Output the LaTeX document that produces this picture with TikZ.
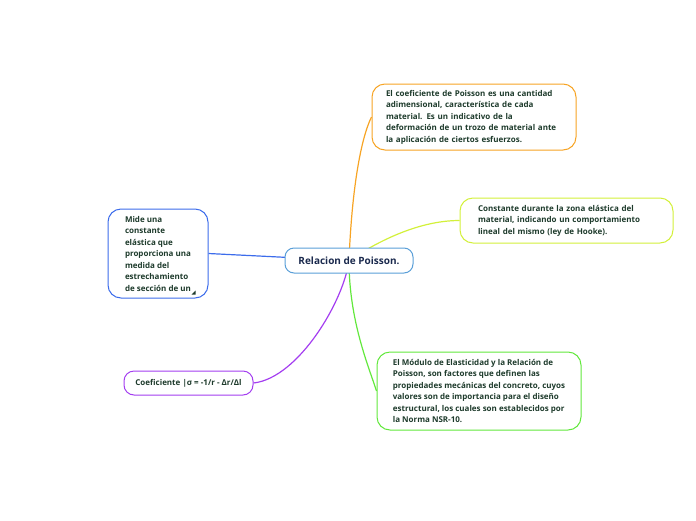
\documentclass[tikz,border=0pt]{standalone}
\usepackage{fontspec}
\setmainfont{Open Sans}
\usetikzlibrary{positioning,calc,backgrounds}
\definecolor{InkGreen}{HTML}{1E3B2C}
\definecolor{InkNavy}{HTML}{1B2A4E}
\definecolor{RootBlue}{HTML}{5A9FD8}
\definecolor{BranchOrange}{HTML}{F7A424}
\definecolor{BranchLime}{HTML}{D3F03A}
\definecolor{BranchBlue}{HTML}{3C6CEB}
\definecolor{BranchViolet}{HTML}{A43EF0}
\definecolor{BranchGreen}{HTML}{62E83C}
\tikzset{
  card/.style={draw,line width=1pt,fill=white,rounded corners=13pt,align=left,inner xsep=0pt,inner ysep=0pt,
    text=InkGreen,font=\bfseries\fontsize{8}{11.5}\selectfont},
  link/.style={line width=1.2pt}
}

\begin{document}
\begin{tikzpicture}[x=1pt,y=-1pt]
  \useasboundingbox (0,0) rectangle (696,520);
  \node[card,draw=RootBlue,rounded corners=9pt,minimum width=128pt,minimum height=25pt,text=InkNavy,font=\bfseries\fontsize{10}{11}\selectfont] (root) at (349,260.5) {Relacion de Poisson.};
  \node[card,draw=BranchOrange,inner xsep=14pt,text width=176pt,minimum height=66pt] (coef) at (474,117) {El coeficiente de Poisson es una cantidad\\adimensional, característica de cada\\material. Es un indicativo de la\\deformación de un trozo de material ante\\la aplicación de ciertos esfuerzos.};
  \node[card,draw=BranchLime,inner xsep=18pt,text width=177pt,minimum height=45pt] (hooke) at (566.5,220.5) {Constante durante la zona elástica del\\material, indicando un comportamiento\\lineal del mismo (ley de Hooke).};
  \node[card,draw=BranchBlue,minimum width=100pt,minimum height=89pt] (elastic) at (158,253.5) {Mide una\\constante\\elástica que\\proporciona una\\medida del\\estrechamiento\\de sección de un};
  \fill[InkGreen] ($(elastic.south east)+(-17,-4)$) -- ++(4,0) -- ++(0,-4) -- cycle;
  \node[card,draw=BranchViolet,rounded corners=10pt,minimum width=129pt,minimum height=24pt] (formula) at (188.5,383) {Coeficiente |σ = -1/r - Δr/Δl};
  \node[card,draw=BranchGreen,minimum width=204pt,minimum height=78pt] (modulus) at (479,391) {El Módulo de Elasticidad y la Relación de\\Poisson, son factores que definen las\\propiedades mecánicas del concreto, cuyos\\valores son de importancia para el diseño\\estructural, los cuales son establecidos por\\la Norma NSR-10.};
  % branches behind the cards
  \begin{scope}[on background layer]
    \draw[link,BranchOrange] (root.center) .. controls +(3,-75) and +(-10,20) .. (coef.west);
    \draw[link,BranchLime] (root.center) .. controls +(30,-20) and +(-40,0) .. (hooke.west);
    \draw[link,BranchBlue] (root.center) -- (elastic.east);
    \draw[link,BranchViolet] (root.center) .. controls +(-5,40) and +(45,-5) .. (formula.east);
    \draw[link,BranchGreen] (root.center) .. controls +(0,60) and +(-8,-25) .. (modulus.west);
  \end{scope}
\end{tikzpicture}
\end{document}
